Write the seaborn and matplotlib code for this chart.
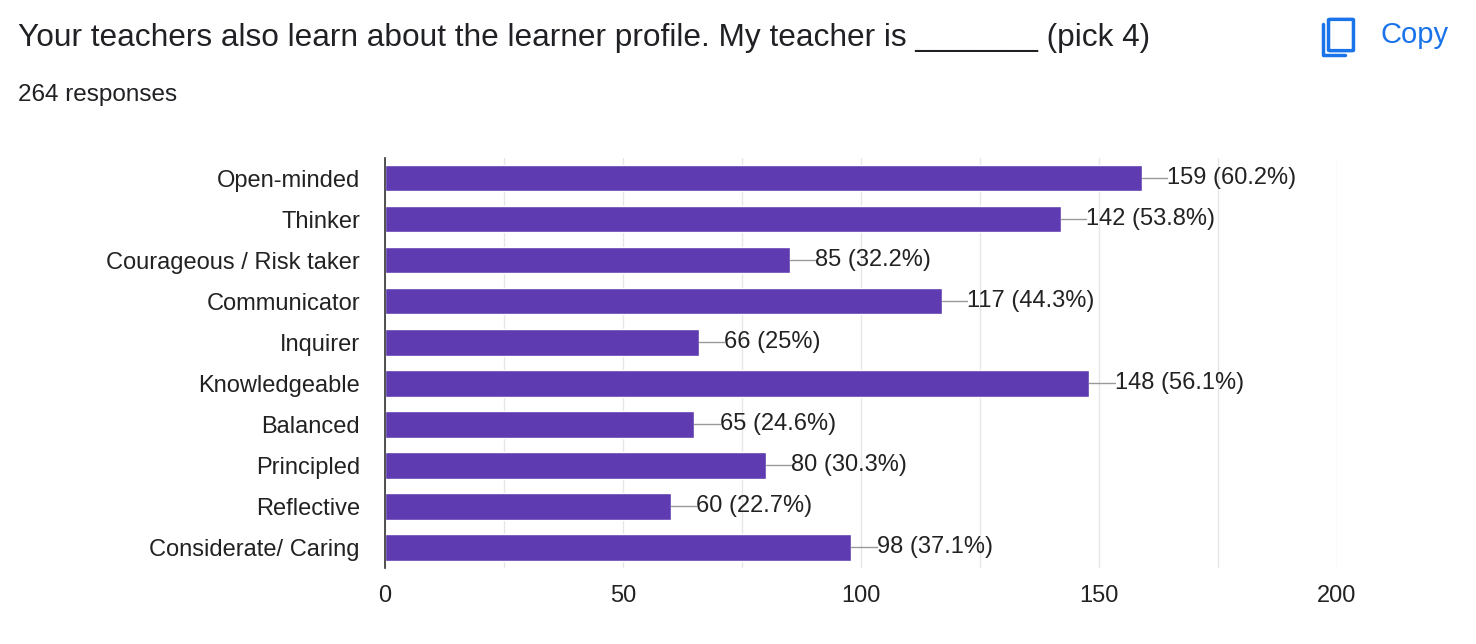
import matplotlib
matplotlib.use("Agg")
import matplotlib.pyplot as plt
import seaborn as sns
import pandas as pd

categories = ["Open-minded", "Thinker", "Courageous / Risk taker", "Communicator", "Inquirer",
              "Knowledgeable", "Balanced", "Principled", "Reflective", "Considerate/ Caring"]
counts = [159, 142, 85, 117, 66, 148, 65, 80, 60, 98]
pct_labels = ["60.2%", "53.8%", "32.2%", "44.3%", "25%", "56.1%", "24.6%", "30.3%", "22.7%", "37.1%"]
xticks = [0, 50, 100, 150, 200]

sns.set_theme(style="white")
plt.rcParams['font.family'] = ['Liberation Sans', 'DejaVu Sans']

fig = plt.figure(figsize=(14.76, 6.44), dpi=100)
ax = fig.add_axes([0.2608, 0.118, 0.645, 0.637])
df = pd.DataFrame({"cat": categories, "n": counts})
sns.barplot(data=df, y="cat", x="n", color="#5e3bb0", saturation=1, width=0.64, ax=ax, orient="h")

for i, (n, p) in enumerate(zip(counts, pct_labels)):
    ax.plot([n, n + 5.3], [i, i], color="#999999", lw=1, zorder=3)
    ax.text(n + 5.3, i, f"{n} ({p})", va="center", ha="left", fontsize=17, color="#222222")

ax.set_xlim(0, 200)
ax.set_ylim(len(categories) - 0.5, -0.5)
ax.set_xticks(xticks)
ax.set_xticks(range(25, 200, 50), minor=True)
ax.grid(axis="x", which="both", color="#e6e6e6", lw=1)
ax.set_axisbelow(True)
ax.tick_params(axis="both", length=0, labelsize=17, colors="#222222")
ax.tick_params(axis="x", pad=12)
ax.tick_params(axis="y", pad=18)
ax.set_xlabel("")
ax.set_ylabel("")
for s in ["top", "right", "bottom"]:
    ax.spines[s].set_visible(False)
ax.spines["left"].set_color("#333333")
ax.spines["left"].set_linewidth(1.2)

fig.text(18/1476, 1 - 38/644, "Your teachers also learn about the learner profile. My teacher is _______ (pick 4)",
         fontsize=22.8, color="#202124", va="center", ha="left")
fig.text(18/1476, 1 - 95/644, "264 responses", fontsize=17.5, color="#202124", va="center", ha="left")
fig.text(1380/1476, 1 - 35/644, "Copy", fontsize=21, color="#1a73e8", va="center", ha="left")
# copy icon
fig.patches.append(matplotlib.patches.FancyBboxPatch((1330/1476, 1 - 50/644), 22/1476, 30/644,
                   boxstyle="round,pad=0.001", transform=fig.transFigure, fill=False,
                   ec="#1a73e8", lw=2.5))
fig.lines.append(matplotlib.lines.Line2D([1323/1476, 1323/1476, 1345/1476],
                 [1 - 24/644, 1 - 55/644, 1 - 55/644], transform=fig.transFigure, color="#1a73e8", lw=2.5))

fig.savefig("out.png", dpi=100, facecolor="white")
